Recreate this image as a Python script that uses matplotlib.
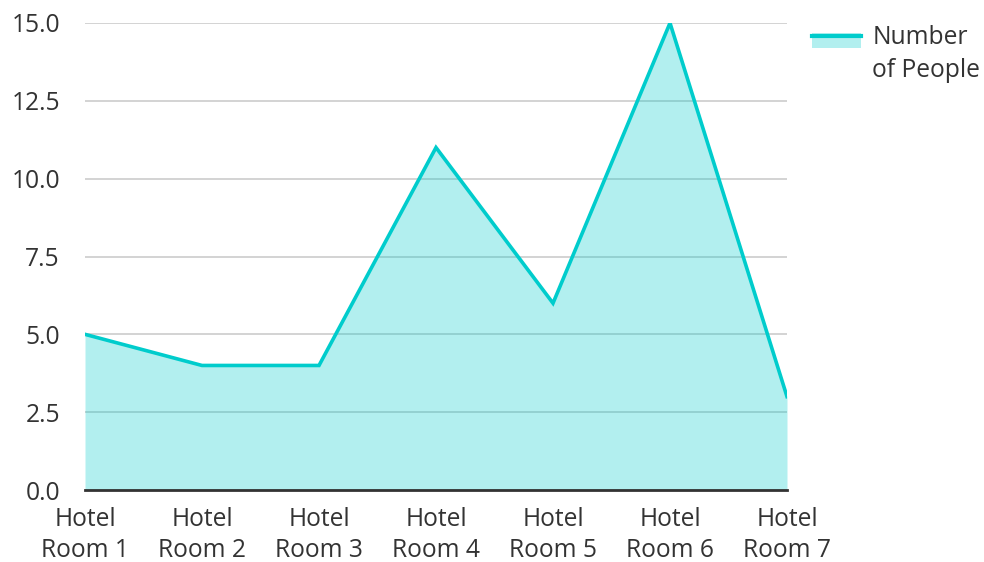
import matplotlib
matplotlib.use("Agg")
import matplotlib.pyplot as plt
from matplotlib.patches import Rectangle
from matplotlib.lines import Line2D

categories = ["Hotel\nRoom 1", "Hotel\nRoom 2", "Hotel\nRoom 3", "Hotel\nRoom 4",
              "Hotel\nRoom 5", "Hotel\nRoom 6", "Hotel\nRoom 7"]
values = [5, 4, 4, 11, 6, 15, 3]
y_ticks = [0.0, 2.5, 5.0, 7.5, 10.0, 12.5, 15.0]
series_name = "Number\nof People"

plt.rcParams['font.family'] = ['Open Sans', 'DejaVu Sans']
LINE = "#00CCCC"
TEXT = "#333333"
FS = 17.7

fig = plt.figure(figsize=(9.84, 5.62), dpi=100)
ax = fig.add_axes([85/984, 1 - 490/562, (787-85)/984, (490-23)/562])

x = list(range(len(values)))
ax.fill_between(x, values, 0, color=LINE, alpha=0.3, linewidth=0, zorder=2)
ax.plot(x, values, color=LINE, linewidth=2.6, zorder=3, solid_joinstyle='miter')

ax.set_xlim(0, len(values) - 1)
ax.set_ylim(0, 15)
ax.set_yticks(y_ticks)
ax.set_yticklabels([f"{v:.1f}" for v in y_ticks])
ax.set_xticks(x)
ax.set_xticklabels(categories, linespacing=1.32)
ax.grid(axis='y', color='#cccccc', linewidth=1.2, zorder=1)
ax.set_axisbelow(True)
for s in ['top', 'right', 'left']:
    ax.spines[s].set_visible(False)
ax.spines['bottom'].set_color(TEXT)
ax.spines['bottom'].set_linewidth(2)
ax.spines['bottom'].set_zorder(4)
ax.tick_params(axis='both', length=0, labelsize=FS, labelcolor=TEXT)
ax.tick_params(axis='y', pad=18)
ax.tick_params(axis='x', pad=12)


class AreaHandler:
    def legend_artist(self, legend, orig_handle, fontsize, handlebox):
        x0, y0 = handlebox.xdescent, handlebox.ydescent
        w, h = handlebox.width, handlebox.height
        off = 11.5
        rect = Rectangle((x0, y0 + off), w, h, facecolor=LINE, alpha=0.3,
                         edgecolor='none', transform=handlebox.get_transform())
        ln = Line2D([x0, x0 + w], [y0 + off + h * 0.85, y0 + off + h * 0.85], color=LINE,
                    linewidth=3, transform=handlebox.get_transform())
        handlebox.add_artist(rect)
        handlebox.add_artist(ln)
        return rect


proxy = Rectangle((0, 0), 1, 1)
leg = fig.legend([proxy], [series_name], handler_map={Rectangle: AreaHandler()},
                 loc='upper left', bbox_to_anchor=(812/984, 1 - 25/562),
                 frameon=False, fontsize=FS, handlelength=2.0, handleheight=0.57,
                 handletextpad=0.45, labelcolor=TEXT, borderpad=0.0, borderaxespad=0.0)
for t in leg.get_texts():
    t.set_linespacing(1.4)

fig.savefig("out.png", dpi=100)
